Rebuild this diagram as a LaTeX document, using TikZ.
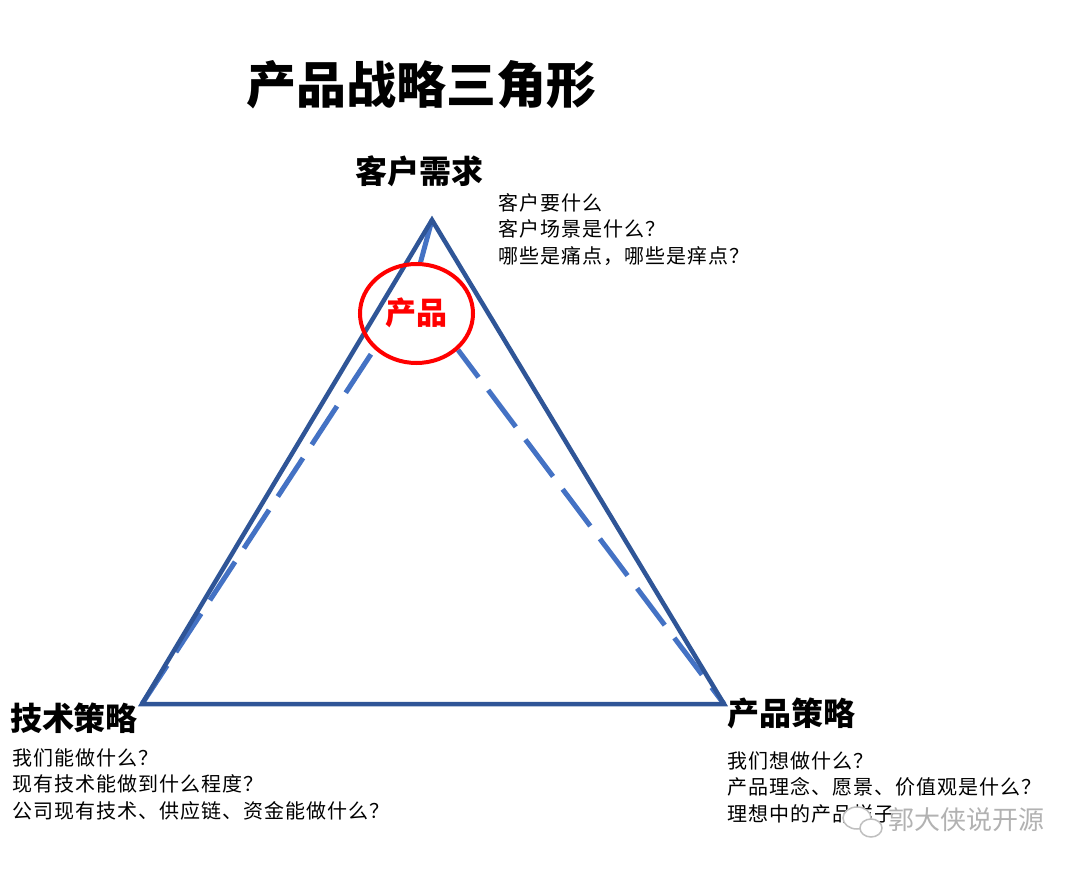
\documentclass[tikz,border=0pt]{standalone}
\usepackage{fontspec}
\setmainfont{Noto Sans CJK SC}
\newfontfamily\notefont[LetterSpace=5]{Noto Sans CJK SC}
\usetikzlibrary{shapes.geometric}
\definecolor{edgeblue}{HTML}{2F5597}
\definecolor{dashblue}{HTML}{4472C4}
\tikzset{
  sideline/.style={draw=edgeblue, line width=4.5pt, line join=miter},
  dashline/.style={draw=dashblue, line width=5pt, dash pattern=on 46pt off 16pt},
  cornerlabel/.style={font=\fontsize{32}{38}\selectfont\bfseries, inner sep=0pt},
  notetext/.style={font=\notefont\fontsize{20}{26.5}\selectfont, align=left, inner sep=0pt, anchor=north west},
  markgray/.style={draw=black!25, line width=1.5pt}
}

\begin{document}
\begin{tikzpicture}[x=1pt,y=-1pt]
	%%%%% START %%%%%
	\useasboundingbox[fill=white] (0,0) rectangle (1080,872);

	\node[font=\fontsize{50}{60}\selectfont\bfseries, inner sep=0pt] (title) at (421,85) {产品战略三角形};

	\coordinate (top) at (432,220);
	\coordinate (tech) at (142,704);
	\coordinate (prod) at (724,704);
	\coordinate (core) at (413,290);

	% dashed triangle to the product point
	\draw[dashline] (tech) -- (core) -- (prod);
	\draw[dashline] (top) -- (core);

	\node[ellipse, fill=white, minimum width=117pt, minimum height=103pt] (ring) at (416.5,313.5) {};

	\draw[sideline] (top) -- (tech) -- (prod) -- cycle;

	\draw[red, line width=4pt] (ring.center) ellipse [x radius=56.5pt, y radius=49.5pt];
	\node[text=red, font=\fontsize{31}{36}\selectfont\bfseries, inner sep=0pt] (ringtext) at (416,313) {产品};

	\node[cornerlabel] (need) at (419,171) {客户需求};
	\node[cornerlabel] (techname) at (74,718) {技术策略};
	\node[cornerlabel] (prodname) at (791,713) {产品策略};

	\node[notetext] (neednote) at (498,193) {客户要什么\\客户场景是什么？\\哪些是痛点，哪些是痒点？};
	\node[notetext] (technote) at (12,748) {我们能做什么？\\现有技术能做到什么程度？\\公司现有技术、供应链、资金能做什么？};
	\node[notetext] (prodnote) at (727,751) {我们想做什么？\\产品理念、愿景、价值观是什么？\\理想中的产品样子};

	% watermark
	\draw[markgray, fill=white] (857,818) ellipse [x radius=14pt, y radius=11pt];
	\draw[markgray, fill=white] (871,828) ellipse [x radius=11pt, y radius=9pt];
	\node[text=black!30, font=\fontsize{26}{30}\selectfont, inner sep=0pt, anchor=west] (mark) at (888,820) {郭大侠说开源};
	%%%%% END %%%%%
\end{tikzpicture}
\end{document}
